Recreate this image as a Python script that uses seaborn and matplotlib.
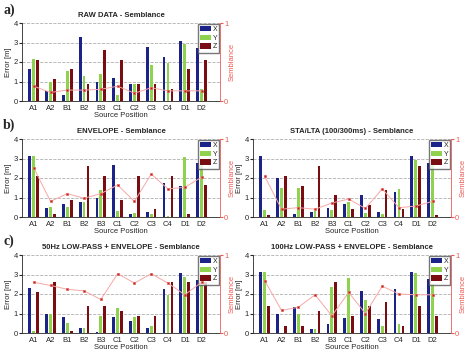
import numpy as np
import pandas as pd
import matplotlib
matplotlib.use('Agg')
import matplotlib.pyplot as plt
import seaborn as sns

# Source positions (x axis)
positions = ['A1', 'A2', 'B1', 'B2', 'B3', 'C1', 'C2', 'C3', 'C4', 'D1', 'D2']

# a) RAW DATA
raw_x = [1.64, 0.52, 0.33, 3.28, 0.97, 1.17, 0.86, 2.76, 2.26, 3.10, 2.74]
raw_y = [2.14, 0.98, 1.53, 1.29, 1.36, 0.29, 0.86, 1.83, 1.97, 2.91, 0.59]
raw_z = [2.09, 1.12, 1.62, 0.86, 2.60, 2.09, 0.86, 0.86, 0.62, 1.64, 2.09]
raw_semb = [0.19, 0.11, 0.14, 0.14, 0.15, 0.19, 0.10, 0.17, 0.13, 0.13, 0.13]

# b) ENVELOPE
env_x = [3.12, 0.48, 0.65, 0.79, 0.98, 2.68, 0.14, 0.24, 1.73, 1.61, 2.76]
env_y = [3.12, 0.51, 0.51, 0.79, 1.37, 0.31, 0.20, 0.17, 0.03, 3.06, 2.99]
env_z = [2.11, 0.14, 0.88, 2.60, 2.11, 0.88, 2.11, 0.39, 2.11, 0.14, 1.63]
env_semb = [0.63, 0.20, 0.30, 0.24, 0.30, 0.41, 0.20, 0.55, 0.36, 0.38, 0.51]

# b) STA/LTA
sta_x = [3.14, 2.00, 0.15, 0.27, 0.46, 0.69, 1.12, 0.24, 1.27, 3.11, 2.76]
sta_y = [0.36, 1.49, 1.49, 0.31, 0.36, 0.77, 0.20, 0.17, 1.46, 2.94, 2.99]
sta_z = [0.10, 2.11, 1.61, 2.60, 1.12, 0.39, 0.62, 1.37, 0.39, 2.60, 0.10]
sta_semb = [0.52, 0.10, 0.12, 0.10, 0.18, 0.23, 0.11, 0.36, 0.12, 0.14, 0.20]

# c) 50Hz LOW-PASS + ENVELOPE
lp50_x = [2.32, 1.00, 0.81, 0.27, 0.03, 0.81, 0.64, 0.27, 2.25, 3.09, 2.71]
lp50_y = [0.12, 0.98, 0.50, 0.27, 0.86, 1.30, 0.84, 0.34, 1.94, 2.88, 2.99]
lp50_z = [2.09, 2.59, 0.10, 1.36, 1.36, 1.12, 0.86, 0.86, 2.59, 2.59, 2.59]
lp50_semb = [0.65, 0.61, 0.56, 0.54, 0.43, 0.76, 0.64, 0.76, 0.64, 0.49, 0.65]

# c) 100Hz LOW-PASS + ENVELOPE
lp100_x = [3.12, 0.96, 1.32, 0.20, 0.45, 0.79, 2.13, 0.74, 2.27, 3.11, 2.76]
lp100_y = [3.12, 0.00, 0.98, 0.20, 2.37, 2.80, 1.70, 0.34, 0.46, 3.06, 2.52]
lp100_z = [1.37, 0.36, 0.36, 1.12, 2.59, 0.86, 1.37, 1.61, 0.36, 1.37, 0.86]
lp100_semb = [0.67, 0.29, 0.33, 0.49, 0.22, 0.52, 0.25, 0.60, 0.50, 0.49, 0.49]

bar_colors = ['#1c2388', '#8ed24e', '#7a0d12']
semb_red = '#ee5a55'

sns.set_style('white')
plt.rcParams['font.family'] = ['Liberation Sans', 'DejaVu Sans']

W, H = 474, 351
fig = plt.figure(figsize=(W / 100, H / 100), dpi=100)


def rect(x0, x1, y0, y1):
    # pixel box -> figure fraction
    return [x0 / W, 1 - y1 / H, (x1 - x0) / W, (y1 - y0) / H]


def draw_panel(box, ex, ey, ez, semb, title):
    ax = fig.add_axes(rect(*box))
    df = pd.DataFrame({
        'pos': positions * 3,
        'err': ex + ey + ez,
        'comp': ['X'] * 11 + ['Y'] * 11 + ['Z'] * 11,
    })
    sns.barplot(data=df, x='pos', y='err', hue='comp', palette=bar_colors,
                width=0.7, gap=0.3, saturation=1, linewidth=0, ax=ax)
    ax.set_ylim(0, 4)
    ax.set_yticks([0, 1, 2, 3, 4])
    ax.grid(axis='y', color='#b0b0b0', linestyle='--', linewidth=0.6)
    ax.set_axisbelow(True)
    ax.set_xlabel('Source Position', fontsize=5.5, labelpad=0)
    ax.set_ylabel('Error [m]', fontsize=5.5, labelpad=1)
    ax.set_title(title, fontsize=5.5, fontweight='bold', pad=4)
    ax.tick_params(labelsize=5.5, length=2, pad=1)
    ax.spines['top'].set_visible(False)
    ax.spines['right'].set_visible(False)
    for s in ['left', 'bottom']:
        ax.spines[s].set_linewidth(0.6)
    ax.legend(loc='upper right', fontsize=5, title=None, frameon=True,
              fancybox=False, edgecolor='#555555', handlelength=1.6,
              handleheight=0.8, labelspacing=0.25, borderpad=0.3,
              handletextpad=0.2, borderaxespad=0.1)

    ax2 = ax.twinx()
    sns.lineplot(x=np.arange(len(positions)), y=semb, ax=ax2,
                 color='#f7a8a6', linewidth=0.7, marker='s', markersize=1.8,
                 markerfacecolor='#a52a1e', markeredgecolor=semb_red,
                 markeredgewidth=0.5)
    ax2.set_ylim(0, 1)
    ax2.set_yticks([0, 1])
    ax2.set_ylabel('Semblance', fontsize=5.5, color=semb_red, labelpad=0)
    ax2.tick_params(labelsize=5.5, colors=semb_red, length=2, pad=1)
    ax2.spines['right'].set_color(semb_red)
    ax2.spines['right'].set_linewidth(0.6)
    for s in ['top', 'left', 'bottom']:
        ax2.spines[s].set_visible(False)
    ax.set_xlim(-0.7, 11.1)
    return ax


draw_panel((22, 220, 23, 101), raw_x, raw_y, raw_z, raw_semb,
           'RAW DATA - Semblance')
draw_panel((22, 220, 139, 217), env_x, env_y, env_z, env_semb,
           'ENVELOPE - Semblance')
draw_panel((253, 451, 139, 217), sta_x, sta_y, sta_z, sta_semb,
           'STA/LTA (100/300ms) - Semblance')
draw_panel((22, 220, 255, 333), lp50_x, lp50_y, lp50_z, lp50_semb,
           '50Hz LOW-PASS + ENVELOPE - Semblance')
draw_panel((253, 451, 255, 333), lp100_x, lp100_y, lp100_z, lp100_semb,
           '100Hz LOW-PASS + ENVELOPE - Semblance')

# panel letters
for lab, ypix in [('a)', 10), ('b)', 125), ('c)', 241)]:
    fig.text(3 / W, 1 - ypix / H, lab, fontsize=10, fontweight='bold',
             family=['Liberation Serif', 'DejaVu Serif'], va='center')

fig.savefig('out.png', dpi=100)
